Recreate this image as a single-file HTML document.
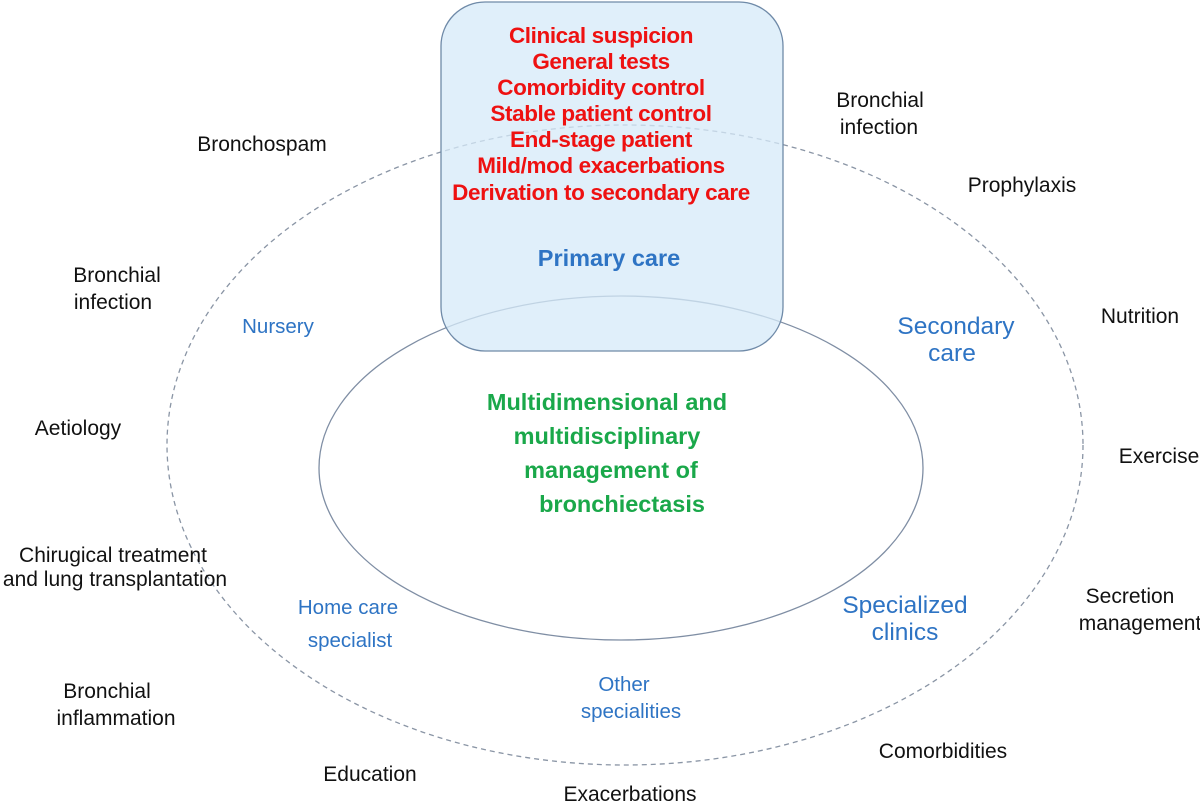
<!DOCTYPE html>
<html><head><meta charset="utf-8"><style>
html,body{margin:0;padding:0;background:#fff;}
svg{display:block;font-family:"Liberation Sans",Arial,sans-serif;}
.k{font-size:21px;fill:#111;}
.b{font-size:20.5px;fill:#2e74c4;}
.bb{font-size:24.5px;fill:#2e74c4;}
.r{font-size:22.5px;fill:#ee1111;font-weight:bold;letter-spacing:-0.4px;}
.g{font-size:23.5px;fill:#1aa84a;font-weight:bold;}
</style></head><body>
<svg width="1200" height="801" viewBox="0 0 1200 801" xmlns="http://www.w3.org/2000/svg">
<ellipse cx="625" cy="445" rx="458" ry="320" fill="none" stroke="#8a95a5" stroke-width="1.3" stroke-dasharray="5,4"/>
<ellipse cx="621" cy="468" rx="302" ry="172" fill="none" stroke="#7f8ea4" stroke-width="1.3"/>
<rect x="441" y="2" width="342" height="349" rx="44" fill="#d5e9f8" fill-opacity="0.75" stroke="#6f8aa8" stroke-width="1.3"/>
<g text-anchor="middle">
<text class="r" x="601" y="43">Clinical suspicion</text>
<text class="r" x="601" y="69">General tests</text>
<text class="r" x="601" y="95">Comorbidity control</text>
<text class="r" x="601" y="121">Stable patient control</text>
<text class="r" x="601" y="147">End-stage patient</text>
<text class="r" x="601" y="173">Mild/mod exacerbations</text>
<text class="r" x="601" y="200">Derivation to secondary care</text>
<text x="609" y="266" font-size="23.5" font-weight="bold" fill="#2e74c4">Primary care</text>
<text class="g" x="607" y="410">Multidimensional and</text>
<text class="g" x="607" y="444">multidisciplinary</text>
<text class="g" x="611" y="478">management of</text>
<text class="g" x="622" y="512">bronchiectasis</text>
<text class="b" x="278" y="333">Nursery</text>
<text class="bb" x="956" y="334">Secondary</text>
<text class="bb" x="952" y="361">care</text>
<text class="b" x="348" y="614">Home care</text>
<text class="b" x="350" y="647">specialist</text>
<text class="bb" x="905" y="613">Specialized</text>
<text class="bb" x="905" y="640">clinics</text>
<text class="b" x="624" y="691">Other</text>
<text class="b" x="631" y="718">specialities</text>
<text class="k" x="262" y="151">Bronchospam</text>
<text class="k" x="117" y="282">Bronchial</text>
<text class="k" x="113" y="309">infection</text>
<text class="k" x="78" y="435">Aetiology</text>
<text class="k" x="113" y="562">Chirugical treatment</text>
<text class="k" x="115" y="586">and lung transplantation</text>
<text class="k" x="107" y="698">Bronchial</text>
<text class="k" x="116" y="725">inflammation</text>
<text class="k" x="370" y="781">Education</text>
<text class="k" x="630" y="801">Exacerbations</text>
<text class="k" x="880" y="107">Bronchial</text>
<text class="k" x="879" y="134">infection</text>
<text class="k" x="1022" y="192">Prophylaxis</text>
<text class="k" x="1140" y="323">Nutrition</text>
<text class="k" x="1159" y="463">Exercise</text>
<text class="k" x="1130" y="603">Secretion</text>
<text class="k" x="1140" y="630">management</text>
<text class="k" x="943" y="758">Comorbidities</text>
</g>
</svg>
</body></html>
